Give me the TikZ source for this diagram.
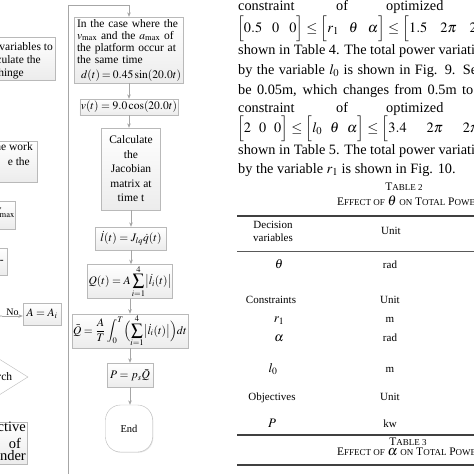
\documentclass[tikz,border=0pt]{standalone}
\usepackage{mathptmx}
\usepackage{fontspec}
\setmainfont{Liberation Serif}
\usetikzlibrary{arrows.meta,shapes.geometric,shadows}

\newcommand{\fakesc}[2]{{\fontsize{11.5}{13}\selectfont #1}{\fontsize{9}{11}\selectfont #2}}

\begin{document}
\begin{tikzpicture}[x=1pt,y=-1pt,
  flowbox/.style={draw=gray!55, top color=white, bottom color=gray!15,
    drop shadow={shadow xshift=0.8pt, shadow yshift=-0.8pt, opacity=0.2},
    inner sep=1pt, align=center, font=\fontsize{11.5}{14}\selectfont},
  decbox/.style={diamond, draw=gray!55, fill=white, inner sep=0pt, font=\fontsize{11.5}{14}\selectfont},
  endbox/.style={flowbox, rounded corners=15pt, top color=white, bottom color=white, font=\fontsize{10.5}{12}\selectfont},
  flowline/.style={draw=gray!70, line width=0.6pt, -{Stealth[length=4.5pt,width=3.6pt]}},
  cuttext/.style={inner sep=0pt, font=\fontsize{11.5}{14}\selectfont},
  para/.style={anchor=mid west, inner sep=0pt, font=\fontsize{14.3}{16}\selectfont},
  cell/.style={anchor=mid, inner sep=0pt, align=center, font=\fontsize{11}{13}\selectfont},
  mathcell/.style={cell, font=\fontsize{13}{14}\selectfont},
  heavyrule/.style={draw=black!75, line width=1.3pt},
  lightrule/.style={draw=black!65, line width=0.9pt}]
\useasboundingbox (0,0) rectangle (474,474);
\clip (0,0) rectangle (474,474);

\node[flowbox, minimum width=125pt, minimum height=43pt] (designvar) at (-7.5,58.5) {};
\node[cuttext, anchor=east] (designvar1) at (53,47) {variables to};
\node[cuttext, anchor=east] (designvar2) at (41,60) {calculate the};
\node[cuttext, anchor=east] (designvar3) at (24,74) {hinge};
\node[flowbox, minimum width=107pt, minimum height=41pt] (work) at (-16.5,161.5) {};
\node[cuttext, anchor=east] (work1) at (33,147) {the work};
\node[cuttext, anchor=east] (work2) at (30,162) {e the};
\node[flowbox, minimum width=55pt, minimum height=28pt] (maxforce) at (-12.5,215) {};
\node[cuttext, anchor=east] (maxforce1) at (15,213) {$F_{\max}$};
\node[flowbox, minimum width=47pt, minimum height=27pt] (bound) at (-16.5,261.5) {};
\node[cuttext, anchor=east] (bound1) at (4,262) {-};
\node[decbox, minimum width=80pt, minimum height=36pt] (check) at (-38,316) {};
\node[flowbox, minimum width=38pt, minimum height=22pt] (update) at (42,314) {$A=A_i$};
\draw[flowline] (check.east) -- (update.west |- check.east)
  node[midway, above=0.5pt, inner sep=0pt, font=\fontsize{10}{12}\selectfont] (nolabel) {No};
\node[decbox, minimum width=63pt, minimum height=31.5pt] (search) at (-3.5,377) {Search};
\node[flowbox, minimum width=67pt, minimum height=42pt] (objective) at (-6.5,443) {};
\node[cuttext, anchor=east, font=\fontsize{14.5}{15}\selectfont] (objective1) at (26,428) {Objective};
\node[cuttext, font=\fontsize{14.5}{15}\selectfont] (objective2) at (15,443) {of};
\node[cuttext, anchor=east, font=\fontsize{14.5}{15}\selectfont] (objective3) at (26,457) {cylinder};

\node[flowbox, minimum width=109pt, minimum height=66pt, text width=104pt, align=left,
  font=\fontsize{11.5}{12}\selectfont] (samecase) at (129,50)
  {In the case where the\\ $v_{\max}$ and the $a_{\max}$ of\\ the platform occur at\\ the same time\\[3pt]
   \hspace*{4pt}$d(t)=0.45\sin(20.0t)$};
\node[flowbox, minimum width=98pt, minimum height=16pt] (velocity) at (129,107) {$v(t)=9.0\cos(20.0t)$};
\node[flowbox, minimum width=59pt, minimum height=82pt, font=\fontsize{11.5}{14.5}\selectfont] (jacobian) at (131,169)
  {Calculate\\ the\\ Jacobian\\ matrix at\\ time t};
\node[flowbox, minimum width=71pt, minimum height=23pt] (lengthrate) at (131,238.5) {$\dot{l}(t)=J_{lq}\dot{q}(t)$};
\node[flowbox, minimum width=84pt, minimum height=31pt] (flowrate) at (130,281.5)
  {$Q(t)=A\displaystyle\sum_{i=1}^{4}\bigl|\dot{l}_i(t)\bigr|$};
\node[flowbox, minimum width=106pt, minimum height=34pt] (meanflow) at (130,331)
  {$\bar{Q}=\displaystyle\frac{A}{T}\int_0^T\Bigl(\sum_{i=1}^{4}\bigl|\dot{l}_i(t)\bigr|\Bigr)dt$};
\node[flowbox, minimum width=46pt, minimum height=24pt] (power) at (130,375) {$P=p_s\bar{Q}$};
\node[endbox, minimum width=47pt, minimum height=47pt] (finish) at (129,428.5) {End};

\coordinate (loopin) at (68,480);
\coordinate (looptop) at (0,5);
\draw[flowline] (loopin) |- (samecase.north |- looptop) -- (samecase.north);
\draw[flowline] (samecase.south) -- (samecase.south |- velocity.north);
\draw[flowline] (velocity.south) -- (velocity.south |- jacobian.north);
\draw[flowline] (jacobian.south) -- (jacobian.south |- lengthrate.north);
\draw[flowline] (lengthrate.south) -- (lengthrate.south |- flowrate.north);
\draw[flowline] (flowrate.south) -- (flowrate.south |- meanflow.north);
\draw[flowline] (meanflow.south) -- (meanflow.south |- power.north);
\draw[flowline] (power.south) -- (power.south |- finish.north);

\node[para] (constraintA) at (238,8) {constraint};
\node[para] (constraintAof) at (336,8) {of};
\node[para] (constraintAopt) at (386,8) {optimized};
\node[para] (rangeA) at (237,30)
  {$\Bigl[0.5\hspace{10pt}0\hspace{10pt}0\Bigr]\le\Bigl[r_1\hspace{10pt}\theta\hspace{10pt}\alpha\Bigr]\le\Bigl[1.5\hspace{13pt}2\pi\hspace{13pt}2\pi\Bigr]$};
\node[para] (tableA) at (238,52) {shown in Table 4. The total power variation};
\node[para] (figA) at (238,72) {\makebox[243pt][s]{by the variable $l_0$ is shown in Fig. 9. Set}};
\node[para] (stepsize) at (238,92) {\makebox[235pt][s]{be 0.05m, which changes from 0.5m to}};
\node[para] (constraintB) at (238,110) {constraint};
\node[para] (constraintBof) at (336,110) {of};
\node[para] (constraintBopt) at (386,110) {optimized};
\node[para] (rangeB) at (237,130)
  {$\Bigl[2\hspace{8pt}0\hspace{8pt}0\Bigr]\le\Bigl[l_0\hspace{8pt}\theta\hspace{8pt}\alpha\Bigr]\le\Bigl[3.4\hspace{20pt}2\pi\hspace{20pt}2\pi\Bigr]$};
\node[para] (tableB) at (238,152) {shown in Table 5. The total power variation};
\node[para] (figB) at (238,171) {by the variable $r_1$ is shown in Fig. 10.};

\node[cell] (captionA) at (404,188) {\fakesc{T}{ABLE 2}};
\node[cell, anchor=mid west] (titleA) at (337,203)
  {\fakesc{E}{FFECT OF} {\fontsize{14}{15}\selectfont$\theta$} \fakesc{}{ON} \fakesc{T}{OTAL} \fakesc{P}{OWER}};
\draw[heavyrule] (237,216) -- (474,216);
\node[cell, anchor=center] (headvar) at (273,231.5) {Decision\\ variables};
\node[cell] (headunit) at (391,232) {Unit};
\draw[lightrule] (237,251) -- (474,251);
\node[mathcell] (vartheta) at (279,266) {$\theta$};
\node[cell] (unittheta) at (390,266) {rad};
\node[cell] (headcons) at (271,301) {Constraints};
\node[cell] (headconsunit) at (390,301) {Unit};
\node[mathcell] (consr) at (279,320) {$r_1$};
\node[cell] (unitr) at (390,320) {m};
\node[mathcell] (consalpha) at (279,339) {$\alpha$};
\node[cell] (unitalpha) at (390,339) {rad};
\node[mathcell] (consl) at (273,370) {$l_0$};
\node[cell] (unitl) at (390,370) {m};
\node[cell] (headobj) at (272,398) {Objectives};
\node[cell] (headobjunit) at (390,398) {Unit};
\node[mathcell] (objp) at (272,425) {$P$};
\node[cell] (unitp) at (390,425) {kw};
\draw[heavyrule] (237,435) -- (474,435);
\node[cell] (captionB) at (408,443) {\fakesc{T}{ABLE 3}};
\node[cell, anchor=mid west] (titleB) at (337,453)
  {\fakesc{E}{FFECT OF} {\fontsize{14}{15}\selectfont$\alpha$} \fakesc{}{ON} \fakesc{T}{OTAL} \fakesc{P}{OWER}};
\draw[heavyrule] (237,465) -- (474,465);
\end{tikzpicture}
\end{document}
